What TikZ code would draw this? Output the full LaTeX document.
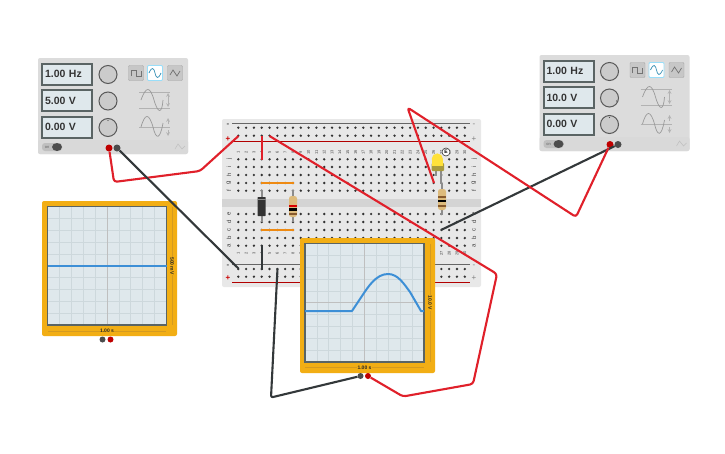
\documentclass[tikz,border=0pt]{standalone}
\usepackage{fontspec}
\setmainfont{Liberation Sans}
\definecolor{wred}{HTML}{E0202A}
\definecolor{wblack}{HTML}{33383A}
\definecolor{scope}{HTML}{F2AE14}
\definecolor{scopel}{HTML}{D49A20}
\definecolor{screen}{HTML}{DFE8EC}
\definecolor{gridl}{HTML}{CDD8DC}
\definecolor{frame}{HTML}{5A6464}
\definecolor{panel}{HTML}{DCDCDC}
\definecolor{knob}{HTML}{CBCBCB}
\definecolor{trace}{HTML}{3D8FD6}
\definecolor{board}{HTML}{E8E8E8}
\definecolor{holec}{HTML}{333333}
\definecolor{tan}{HTML}{DDBB7C}
\definecolor{ledy}{HTML}{FFE13A}
\definecolor{ledb}{HTML}{A89A3C}
\definecolor{wor}{HTML}{EE8A12}
\tikzset{
 x=1pt,y=-1pt,
 redwire/.style={draw=wred,line width=2.1pt,line join=round,rounded corners=3pt},
 blackwire/.style={draw=wblack,line width=2.1pt,line join=round,rounded corners=2pt},
 orangewire/.style={draw=wor,line width=2.1pt},
 lcd/.style={draw=frame,line width=2pt,fill=screen,minimum width=50pt,minimum height=21pt,inner sep=0pt,text width=44pt,align=left,font=\bfseries\fontsize{10.5}{10.5}\selectfont,text=black!80},
 knobn/.style={circle,draw=black!65,line width=1pt,fill=knob,minimum size=18pt,inner sep=0pt},
 btn/.style={draw=black!35,fill=black!22,rounded corners=1pt,minimum size=15pt,inner sep=0pt},
 btnon/.style={draw=cyan!40,fill=white,line width=.8pt,rounded corners=1pt,minimum size=15pt,inner sep=0pt},
 redpin/.style={circle,fill=red!75!black,minimum size=7pt,inner sep=0pt},
 blackpin/.style={circle,fill=black!70,minimum size=7pt,inner sep=0pt},
 tiny/.style={font=\fontsize{4}{4}\selectfont,text=black!75,inner sep=0pt},
 sclabel/.style={font=\bfseries\fontsize{5}{5}\selectfont,text=black!85,inner sep=.5pt,fill=scope},
 sym/.style={draw=black!30,line width=.7pt},
 leadl/.style={draw=black!45,line width=1.6pt},
}
\newcommand{\fgen}[7]{% x y f v o knob2 name
\begin{scope}[shift={(#1,#2)}]
 \fill[panel,rounded corners=2pt] (0,0) rectangle (150,96);
 \fill[black!15,rounded corners=2pt] (0,82) rectangle (150,96);
 \node[lcd] at (29,16) {#3};
 \node[lcd] at (29,42.5) {#4};
 \node[lcd] at (29,69) {#5};
 \node[knobn] at (70,16.5) {};
 \node[knobn] at (70,43) {};
 \node[knobn] at (70,69.5) {};
 \fill[black!70] (63.5,22) circle (.7pt);
 \fill[black!70] #6 circle (.7pt);
 \fill[black!70] (70,62.5) circle (.7pt);
 \node[btn] at (98,15) {};
 \draw[black!55,line width=.7pt] (93,18)--(93,12)--(98,12)--(98,18)--(103,18)--(103,13);
 \node[btnon] at (117,15) {};
 \draw[cyan!70!black,line width=.7pt] (111,15) .. controls (114,8) and (116,10) .. (117,15) .. controls (118,20) and (120,22) .. (123,15);
 \node[btn] at (137,15) {};
 \draw[black!55,line width=.7pt] (132,17)--(135,12)--(139,18)--(142,13);
 \draw[sym] (101,34)--(132,34) (101,50)--(132,50);
 \draw[black!40,line width=.7pt] (103,42) .. controls (108,28) and (112,28) .. (116,42) .. controls (120,56) and (124,56) .. (125,42);
 \draw[sym,<->,>=stealth] (130,35)--(130,49);
 \draw[sym] (101,69)--(132,69);
 \draw[black!40,line width=.7pt] (103,69) .. controls (107,55) and (111,55) .. (115,69) .. controls (118,82) and (122,82) .. (125,65);
 \draw[sym,->,>=stealth] (130,66)--(130,60);
 \draw[sym,->,>=stealth] (130,72)--(130,78);
 \fill[black!25,rounded corners=3pt] (4,85) rectangle (24,93);
 \fill[black!70] (19,89) ellipse (5pt and 4pt);
 \node[tiny,text=black!60] at (9,89) {on};
 \draw[black!25,line width=.5pt] (137,91)--(140,86)--(144,91)--(147,88);
\end{scope}}
\newcommand{\scopegrid}[4]{% x1 y1 x2 y2
 \fill[screen] (#1,#2) rectangle (#3,#4);
 \foreach \i in {1,...,9} {
  \draw[gridl,line width=.7pt] ({#1+(#3-#1)*\i/10},#2) -- ({#1+(#3-#1)*\i/10},#4);
  \draw[gridl,line width=.7pt] (#1,{#2+(#4-#2)*\i/10}) -- (#3,{#2+(#4-#2)*\i/10});
 }
 \draw[black!25,line width=.9pt] ({(#1+#3)/2},#2) -- ({(#1+#3)/2},#4);
 \draw[black!25,line width=.9pt] (#1,{(#2+#4)/2}) -- (#3,{(#2+#4)/2});
}
\newcommand{\resistor}[3]{%
 \draw[leadl] (#1,#2)--(#1,#2+32);
 \fill[tan,rounded corners=2.5pt] (#1-4,#2+6) rectangle (#1+4,#2+27);
 #3}
\begin{document}
\begin{tikzpicture}
\useasboundingbox (0,0) rectangle (725,453);
\fill[white] (0,0) rectangle (725,453);
% breadboard
\fill[board,rounded corners=2pt] (222,119) rectangle (481,287);
\fill[black!17] (222,199) rectangle (481,207);
\foreach \i in {0,...,29} {
 \pgfmathsetmacro{\hx}{238.3+7.81*\i}
 \pgfmathtruncatemacro{\num}{\i+1}
 \foreach \hy in {127.7,135.7,159.3,167,175,183,190.7,214,222,230,238,245.7,269,276.7}
  \fill[holec] (\hx,\hy) circle (1.3pt);
 \node[tiny,rotate=90] at (\hx,152) {\num};
 \node[tiny,rotate=90] at (\hx,253) {\num};
}
\foreach \ly/\lt in {159.3/j,167/i,175/h,183/g,190.7/f,214/e,222/d,230/c,238/b,245.7/a}{
 \node[tiny,rotate=90,font=\fontsize{6}{6}\selectfont] at (229,\ly) {\lt};
 \node[tiny,rotate=90,font=\fontsize{6}{6}\selectfont] at (474,\ly) {\lt};
}
\draw[black!60,line width=1pt] (232,123.3)--(470,123.3) (232,264)--(470,264);
\draw[red!70!black,line width=.9pt] (232,141.7)--(470,141.7) (232,282.7)--(470,282.7);
\foreach \sy/\my in {141/125,280/266}{
 \node[font=\fontsize{8}{8}\selectfont\bfseries,text=red!80!black,inner sep=0pt] at (228,\sy-2) {+};
 \node[font=\fontsize{8}{8}\selectfont,text=black!50,inner sep=0pt] at (474,\sy-2) {+};
 \node[font=\fontsize{8}{8}\selectfont\bfseries,text=black!70,inner sep=0pt] at (228,\my) {-};
 \node[font=\fontsize{8}{8}\selectfont,text=black!50,inner sep=0pt] at (474,\my) {-};
}
% components
\coordinate (o1a) at (261,182.7); \coordinate (o1b) at (294,182.7);
\coordinate (o2a) at (261,229.7); \coordinate (o2b) at (294,229.7);
\draw[orangewire] (o1a)--(o1b);
\draw[orangewire] (o2a)--(o2b);
% diode
\draw[leadl] (261.7,190)--(261.7,222);
\node[fill=black!80,minimum width=8pt,minimum height=19pt,inner sep=0pt,rounded corners=.5pt] (diode) at (261.7,206.5) {};
\fill[black!45] (257.7,198.5) rectangle (265.7,200.2);
% resistor 1
\resistor{293}{190}{%
 \fill[red!85!black] (289,204.5) rectangle (297,206.5);
 \fill[black] (289,208) rectangle (297,210.5);
 \fill[brown!70!black] (289,212.5) rectangle (297,214.5);}
\resistor{442}{183}{%
 \fill[brown!70!black] (438,195.5) rectangle (446,197.5);
 \fill[black] (438,199.5) rectangle (446,202);
 \fill[brown!70!black] (438,204.5) rectangle (446,206.5);}
% LED
\draw[leadl] (436,168)--(436,176) (441,168)--(441,183);
\fill[ledb,rounded corners=1pt] (431.5,163) rectangle (444,171);
\fill[ledy] (431.8,166) rectangle (442.8,159);
\fill[ledy] (437.3,159) circle (5.6pt);
\node[circle,draw=black!80,fill=white,line width=.6pt,minimum size=8pt,inner sep=0pt,font=\fontsize{5}{5}\selectfont\bfseries] (badge) at (446,152) {E};
% wire end coordinates
\coordinate (r1a) at (238.5,136); \coordinate (r1b) at (262,136); \coordinate (r1c) at (262,160);
\coordinate (r2a) at (269.5,136); \coordinate (r3a) at (434,183);
\coordinate (b1a) at (238.5,268.5); \coordinate (b2a) at (262,245); \coordinate (b2b) at (262,270);
\coordinate (b3a) at (277.5,268.5); \coordinate (b4a) at (441,230);
% function generators
\fgen{38}{58}{1.00 Hz}{5.00 V}{0.00 V}{(77,48.5)}{a}
\fgen{539.5}{55}{1.00 Hz}{10.0 V}{0.00 V}{(77,46)}{b}
\node[redpin] (g1r) at (109,148) {};
\node[blackpin] (g1b) at (117,148) {};
\node[redpin] (g2r) at (610,144.5) {};
\node[blackpin] (g2b) at (618,144.5) {};
% scope 1
\fill[scope,rounded corners=2pt] (42,201) rectangle (177,336);
\scopegrid{47.5}{206.5}{166.5}{325}
\draw[frame,line width=1.8pt] (47.5,206.5) rectangle (166.5,325);
\draw[trace,line width=2pt] (47.5,265.7)--(166.5,265.7);
\draw[scopel,line width=.5pt] (48,331)--(166,331) (172,207)--(172,325);
\node[sclabel] at (107,331) {1.00 s};
\node[sclabel,rotate=-90] at (172,266) {500 mV};
\node[blackpin,minimum size=6pt] (s1b) at (102.5,339.5) {};
\node[redpin,minimum size=6pt] (s1r) at (110.5,339.5) {};
% scope 2
\fill[scope,rounded corners=2pt] (300,238) rectangle (435,373);
\scopegrid{305}{243.5}{424}{362}
\draw[frame,line width=1.8pt] (305,243.5) rectangle (424,362);
\draw[trace,line width=2pt,line join=round] (305,311)--(352,311) -- (362,296) .. controls (368,287) and (376,274) .. (388,274) .. controls (398,274) and (404,284) .. (410,292) -- (421,311) -- (424,311);
\draw[scopel,line width=.5pt] (305,367.5)--(424,367.5) (430,244)--(430,362);
\node[sclabel] at (364.5,367.5) {1.00 s};
\node[sclabel,rotate=-90] at (430,303) {10.0 V};
\node[blackpin,minimum size=6pt] (s2b) at (360.5,376) {};
\node[redpin,minimum size=6pt] (s2r) at (368,376) {};
% wires
\draw[redwire] (g1r) -- (114,182) -- (200,171) -- (r1a);
\draw[blackwire] (g1b) -- (b1a);
\draw[redwire] (r1b) -- (r1c);
\draw[redwire] (r2a) -- (497,274) -- (473,384) -- (403,396.5) -- (s2r);
\draw[blackwire] (b2a) -- (b2b);
\draw[blackwire] (b3a) -- (271,397.5) -- (s2b);
\draw[blackwire] (g2b) -- (b4a);
\draw[redwire] (g2r) -- (576,217) -- (407.5,107.5) -- (r3a);
\end{tikzpicture}
\end{document}
